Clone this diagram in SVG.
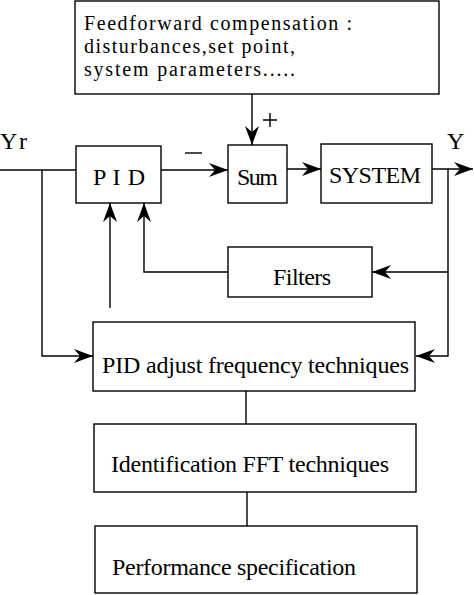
<svg xmlns="http://www.w3.org/2000/svg" width="474" height="595" viewBox="0 0 474 595">
<style>
.box{fill:#fff;stroke:#000;stroke-width:1.4}
.t{font-family:'Liberation Serif','DejaVu Serif',serif;font-size:24px;fill:#000}
.ff{font-size:20px}
.ln{fill:none;stroke:#000;stroke-width:1.4}
</style>
<defs>
<marker id="ah" markerUnits="userSpaceOnUse" markerWidth="22" markerHeight="16" refX="19" refY="7" orient="auto">
<path d="M0,0 L19,7 L0,14 L6,7 z" fill="#000"/>
</marker>
</defs>
<rect width="474" height="595" fill="#fff"/>
<g id="connectors">
<path class="ln" d="M0,170 H76"/>
<path class="ln" d="M42,170 V356 H93" marker-end="url(#ah)"/>
<path class="ln" d="M161,170 H228" marker-end="url(#ah)"/>
<path class="ln" d="M287,169 H321" marker-end="url(#ah)"/>
<path class="ln" d="M432,169 H473" marker-end="url(#ah)"/>
<path class="ln" d="M252,94 V145" marker-end="url(#ah)"/>
<path class="ln" d="M448,169 V356 H416" marker-end="url(#ah)"/>
<path class="ln" d="M448,272 H372" marker-end="url(#ah)"/>
<path class="ln" d="M228,272 H144 V203" marker-end="url(#ah)"/>
<path class="ln" d="M110,308 V203" marker-end="url(#ah)"/>
<path class="ln" d="M246,391 V424"/>
<path class="ln" d="M247,492 V526"/>
<text class="t" font-family="Liberation Serif, serif" x="0" y="149" textLength="27">Yr</text>
<text class="t" font-family="Liberation Serif, serif" x="447" y="149" textLength="18">Y</text>
<path class="ln" d="M185,153 H202"/>
<path class="ln" d="M263,120 H277 M270,113 V127"/>
</g>
<g id="feedforward">
<rect class="box" x="75" y="1" width="364" height="93"/>
<text class="t ff" font-family="Liberation Serif, serif" x="84" y="30" textLength="268">Feedforward compensation :</text>
<text class="t ff" font-family="Liberation Serif, serif" x="84" y="53" textLength="211">disturbances,set point,</text>
<text class="t ff" font-family="Liberation Serif, serif" x="84" y="76" textLength="211">system parameters.....</text>
</g>
<g id="pid">
<rect class="box" x="76" y="146" width="85" height="57"/>
<text class="t" font-family="Liberation Serif, serif" x="93" y="185" textLength="52">P I D</text>
</g>
<g id="sum">
<rect class="box" x="228" y="145" width="59" height="58"/>
<text class="t" font-family="Liberation Serif, serif" x="237" y="185" textLength="41">Sum</text>
</g>
<g id="system">
<rect class="box" x="321" y="144" width="111" height="59"/>
<text class="t" font-family="Liberation Serif, serif" x="329" y="183" textLength="92">SYSTEM</text>
</g>
<g id="filters">
<rect class="box" x="228" y="247" width="144" height="50"/>
<text class="t" font-family="Liberation Serif, serif" x="273" y="285" textLength="58">Filters</text>
</g>
<g id="pidadjust">
<rect class="box" x="93" y="322" width="322" height="69"/>
<text class="t" font-family="Liberation Serif, serif" x="102" y="373" textLength="307">PID adjust frequency techniques</text>
</g>
<g id="identification">
<rect class="box" x="94" y="424" width="322" height="68"/>
<text class="t" font-family="Liberation Serif, serif" x="111" y="472" textLength="278">Identification FFT techniques</text>
</g>
<g id="performance">
<rect class="box" x="95" y="526" width="322" height="67"/>
<text class="t" font-family="Liberation Serif, serif" x="112" y="575" textLength="244">Performance specification</text>
</g>
</svg>
